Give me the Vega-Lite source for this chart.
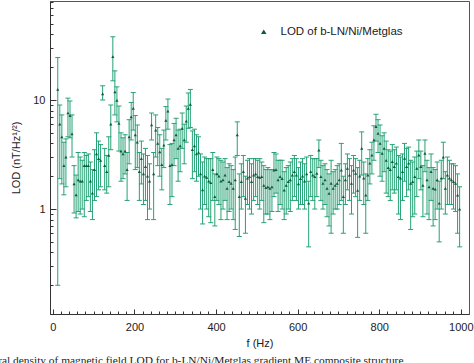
{
"$schema": "https://vega.github.io/schema/vega-lite/v6.json",
"width": 419, "height": 313,
"autosize": "none",
"padding": {"left": 50, "top": 1, "right": 5, "bottom": 49},
"background": "white",
"config": {"view": {"stroke": "#555", "strokeWidth": 1}, "font": "Liberation Sans"},
"title": {"text": "Fig. 5 Noise spectral density of magnetic field LOD for b-LN/Ni/Metglas gradient ME composite structure", "orient": "bottom", "anchor": "start", "frame": "group", "dx": -134, "offset": 16, "baseline": "alphabetic", "font": "Liberation Serif", "fontSize": 11.4, "fontWeight": "normal", "color": "#222"},
"data": {"values": [
{"f":12,"v":12.5,"lo":0.2,"hi":24.5},{"f":17,"v":6.0,"lo":1.9,"hi":9.0},{"f":22,"v":4.6,"lo":1.7,"hi":7.3},{"f":27,"v":2.5,"lo":1.35,"hi":4.1},{"f":32,"v":3.0,"lo":1.6,"hi":4.4},
{"f":37,"v":7.6,"lo":4.6,"hi":10.4},{"f":42,"v":7.2,"lo":4.5,"hi":9.8},{"f":47,"v":4.9,"lo":3.0,"hi":7.3},{"f":52,"v":1.7,"lo":0.92,"hi":2.5},{"f":57,"v":1.35,"lo":0.83,"hi":2.05},
{"f":62,"v":1.85,"lo":0.95,"hi":3.3},{"f":67,"v":1.8,"lo":0.9,"hi":3.0},{"f":72,"v":1.8,"lo":1.0,"hi":2.8},{"f":77,"v":2.5,"lo":0.85,"hi":3.3},{"f":82,"v":2.5,"lo":1.2,"hi":3.1},
{"f":87,"v":2.5,"lo":1.3,"hi":3.2},{"f":92,"v":1.8,"lo":0.95,"hi":2.7},{"f":97,"v":1.4,"lo":0.8,"hi":2.3},{"f":102,"v":2.3,"lo":1.2,"hi":3.5},{"f":107,"v":3.2,"lo":1.3,"hi":5.0},
{"f":112,"v":2.9,"lo":1.5,"hi":4.2},{"f":117,"v":2.8,"lo":1.6,"hi":3.9},{"f":122,"v":11.4,"lo":10.0,"hi":13.5},{"f":127,"v":2.5,"lo":1.5,"hi":3.6},{"f":132,"v":2.2,"lo":1.4,"hi":3.1},
{"f":137,"v":3.1,"lo":1.6,"hi":4.6},{"f":142,"v":6.0,"lo":3.5,"hi":9.0},{"f":147,"v":25,"lo":15,"hi":38},{"f":152,"v":11.9,"lo":7.3,"hi":18.5},{"f":157,"v":9.9,"lo":6.3,"hi":13.2},
{"f":162,"v":6.1,"lo":3.4,"hi":8.8},{"f":167,"v":3.4,"lo":1.8,"hi":5.0},{"f":172,"v":3.2,"lo":1.9,"hi":4.5},{"f":177,"v":3.4,"lo":2.1,"hi":4.8},{"f":182,"v":2.3,"lo":1.2,"hi":3.3},
{"f":187,"v":4.6,"lo":2.6,"hi":6.6},{"f":192,"v":7.0,"lo":4.3,"hi":9.5},{"f":197,"v":8.4,"lo":5.3,"hi":11.7},{"f":202,"v":4.8,"lo":2.3,"hi":7.2},{"f":207,"v":4.1,"lo":2.4,"hi":5.9},
{"f":212,"v":2.2,"lo":1.2,"hi":3.3},{"f":217,"v":2.9,"lo":1.7,"hi":4.2},{"f":222,"v":2.1,"lo":1.1,"hi":3.2},{"f":227,"v":2.45,"lo":1.2,"hi":3.6},{"f":232,"v":2.0,"lo":0.8,"hi":3.1},
{"f":237,"v":1.8,"lo":1.0,"hi":2.6},{"f":242,"v":5.9,"lo":4.3,"hi":7.6},{"f":247,"v":2.1,"lo":0.8,"hi":3.3},{"f":252,"v":5.3,"lo":3.0,"hi":7.3},{"f":257,"v":4.0,"lo":2.5,"hi":5.6},
{"f":262,"v":3.35,"lo":2.0,"hi":4.8},{"f":267,"v":2.55,"lo":1.5,"hi":3.6},{"f":272,"v":3.85,"lo":2.4,"hi":5.3},{"f":277,"v":6.5,"lo":4.3,"hi":8.7},{"f":282,"v":7.9,"lo":5.4,"hi":10.2},
{"f":287,"v":2.5,"lo":1.1,"hi":3.9},{"f":292,"v":2.55,"lo":1.3,"hi":4.0},{"f":297,"v":4.3,"lo":2.5,"hi":6.1},{"f":302,"v":4.8,"lo":2.9,"hi":6.8},{"f":307,"v":3.6,"lo":1.8,"hi":5.3},
{"f":312,"v":3.8,"lo":2.2,"hi":5.4},{"f":317,"v":5.5,"lo":3.6,"hi":7.6},{"f":322,"v":4.3,"lo":2.6,"hi":6.0},{"f":327,"v":6.4,"lo":4.1,"hi":8.8},{"f":332,"v":8.4,"lo":5.5,"hi":11.6},
{"f":337,"v":9.1,"lo":5.6,"hi":12.5},{"f":342,"v":3.5,"lo":1.9,"hi":5.2},{"f":347,"v":3.8,"lo":2.2,"hi":5.4},{"f":352,"v":3.2,"lo":1.8,"hi":4.8},{"f":357,"v":3.3,"lo":2.0,"hi":4.6},
{"f":362,"v":2.1,"lo":1.0,"hi":3.2},{"f":367,"v":1.5,"lo":0.73,"hi":2.7},{"f":372,"v":2.0,"lo":1.1,"hi":3.0},{"f":377,"v":1.95,"lo":1.0,"hi":2.9},{"f":382,"v":1.8,"lo":0.85,"hi":2.9},
{"f":387,"v":1.75,"lo":0.75,"hi":2.9},{"f":392,"v":2.3,"lo":1.2,"hi":3.3},{"f":397,"v":1.3,"lo":0.7,"hi":2.1},{"f":402,"v":2.1,"lo":1.2,"hi":3.0},{"f":407,"v":2.0,"lo":1.1,"hi":2.9},
{"f":412,"v":1.8,"lo":0.8,"hi":2.8},{"f":417,"v":1.85,"lo":1.0,"hi":2.7},{"f":422,"v":2.05,"lo":1.2,"hi":2.9},{"f":427,"v":1.55,"lo":0.8,"hi":2.4},{"f":432,"v":1.78,"lo":0.95,"hi":2.6},
{"f":437,"v":1.72,"lo":1.0,"hi":2.5},{"f":442,"v":1.55,"lo":0.8,"hi":2.3},{"f":447,"v":1.85,"lo":0.65,"hi":3.0},{"f":452,"v":4.8,"lo":3.1,"hi":6.3},{"f":457,"v":1.3,"lo":0.56,"hi":2.1},
{"f":462,"v":1.78,"lo":1.0,"hi":2.6},{"f":467,"v":2.2,"lo":1.3,"hi":3.1},{"f":472,"v":1.25,"lo":0.6,"hi":2.0},{"f":477,"v":1.92,"lo":1.1,"hi":2.8},{"f":482,"v":1.98,"lo":1.0,"hi":2.9},
{"f":487,"v":1.78,"lo":0.9,"hi":2.6},{"f":492,"v":2.05,"lo":1.2,"hi":2.9},{"f":497,"v":2.1,"lo":1.3,"hi":2.9},{"f":502,"v":1.98,"lo":1.1,"hi":2.8},{"f":507,"v":1.95,"lo":1.0,"hi":2.9},
{"f":512,"v":1.98,"lo":1.2,"hi":2.7},{"f":517,"v":1.65,"lo":0.75,"hi":2.5},{"f":522,"v":1.57,"lo":0.9,"hi":2.3},{"f":527,"v":1.6,"lo":0.9,"hi":2.4},{"f":532,"v":1.55,"lo":0.8,"hi":2.3},
{"f":537,"v":1.6,"lo":0.95,"hi":2.3},{"f":542,"v":2.28,"lo":1.3,"hi":3.3},{"f":547,"v":2.3,"lo":1.4,"hi":3.2},{"f":552,"v":1.85,"lo":0.95,"hi":2.8},{"f":557,"v":1.98,"lo":1.1,"hi":2.8},
{"f":562,"v":1.9,"lo":1.0,"hi":2.8},{"f":567,"v":1.49,"lo":0.8,"hi":2.2},{"f":572,"v":1.65,"lo":0.9,"hi":2.4},{"f":577,"v":1.78,"lo":1.0,"hi":2.5},{"f":582,"v":1.85,"lo":0.95,"hi":2.7},
{"f":587,"v":2.05,"lo":1.2,"hi":2.9},{"f":592,"v":2.2,"lo":1.3,"hi":3.1},{"f":597,"v":2.05,"lo":1.2,"hi":2.9},{"f":602,"v":1.7,"lo":1.0,"hi":2.4},{"f":607,"v":1.9,"lo":1.1,"hi":2.7},
{"f":612,"v":2.0,"lo":1.1,"hi":2.9},{"f":617,"v":1.8,"lo":1.0,"hi":2.6},{"f":622,"v":2.1,"lo":1.2,"hi":3.0},{"f":627,"v":1.13,"lo":0.45,"hi":1.8},{"f":632,"v":2.2,"lo":1.3,"hi":3.1},
{"f":637,"v":2.05,"lo":1.2,"hi":2.9},{"f":642,"v":1.98,"lo":1.0,"hi":2.9},{"f":647,"v":2.12,"lo":1.3,"hi":2.9},{"f":652,"v":3.47,"lo":2.4,"hi":4.3},{"f":657,"v":1.98,"lo":1.2,"hi":2.8},
{"f":662,"v":1.72,"lo":1.0,"hi":2.5},{"f":667,"v":1.85,"lo":1.1,"hi":2.6},{"f":672,"v":1.55,"lo":0.85,"hi":2.3},{"f":677,"v":1.39,"lo":0.7,"hi":2.1},{"f":682,"v":1.72,"lo":0.6,"hi":2.8},
{"f":687,"v":1.55,"lo":0.9,"hi":2.2},{"f":692,"v":1.65,"lo":1.0,"hi":2.3},{"f":697,"v":1.72,"lo":1.0,"hi":2.5},{"f":702,"v":1.85,"lo":1.1,"hi":2.6},{"f":707,"v":2.28,"lo":1.2,"hi":4.0},
{"f":712,"v":1.3,"lo":0.6,"hi":2.0},{"f":717,"v":1.85,"lo":1.1,"hi":2.6},{"f":722,"v":2.36,"lo":1.5,"hi":3.2},{"f":727,"v":2.05,"lo":1.2,"hi":2.9},{"f":732,"v":1.72,"lo":0.9,"hi":2.5},
{"f":737,"v":2.28,"lo":1.4,"hi":3.1},{"f":742,"v":2.12,"lo":1.3,"hi":2.9},{"f":747,"v":1.48,"lo":0.55,"hi":2.4},{"f":752,"v":2.0,"lo":1.2,"hi":2.8},{"f":757,"v":3.6,"lo":2.05,"hi":5.1},
{"f":762,"v":1.92,"lo":1.1,"hi":2.7},{"f":767,"v":1.34,"lo":0.6,"hi":2.1},{"f":772,"v":2.05,"lo":1.2,"hi":2.9},{"f":777,"v":2.63,"lo":1.7,"hi":3.5},{"f":782,"v":3.13,"lo":2.1,"hi":4.1},
{"f":787,"v":4.3,"lo":2.8,"hi":5.8},{"f":792,"v":5.7,"lo":4.2,"hi":7.4},{"f":797,"v":4.95,"lo":3.3,"hi":6.6},{"f":802,"v":4.0,"lo":2.0,"hi":5.9},{"f":807,"v":3.24,"lo":1.8,"hi":4.7},
{"f":812,"v":3.6,"lo":2.2,"hi":5.0},{"f":817,"v":2.8,"lo":1.4,"hi":4.2},{"f":822,"v":2.4,"lo":1.3,"hi":3.5},{"f":827,"v":2.3,"lo":1.2,"hi":3.4},{"f":832,"v":2.72,"lo":1.5,"hi":3.9},
{"f":837,"v":2.45,"lo":1.4,"hi":3.5},{"f":842,"v":2.63,"lo":1.5,"hi":3.7},{"f":847,"v":1.98,"lo":0.9,"hi":3.1},{"f":852,"v":1.92,"lo":0.8,"hi":3.0},{"f":857,"v":2.2,"lo":1.2,"hi":3.2},
{"f":862,"v":2.92,"lo":1.8,"hi":4.0},{"f":867,"v":2.45,"lo":1.3,"hi":3.6},{"f":872,"v":2.63,"lo":1.5,"hi":3.7},{"f":877,"v":1.72,"lo":0.65,"hi":2.8},{"f":882,"v":1.78,"lo":0.85,"hi":2.7},
{"f":887,"v":1.98,"lo":0.9,"hi":3.0},{"f":892,"v":2.36,"lo":1.3,"hi":3.4},{"f":897,"v":3.13,"lo":1.9,"hi":4.3},{"f":902,"v":2.45,"lo":1.5,"hi":3.4},{"f":907,"v":1.65,"lo":0.85,"hi":2.5},
{"f":912,"v":3.24,"lo":2.2,"hi":4.3},{"f":917,"v":1.85,"lo":0.9,"hi":2.8},{"f":922,"v":1.6,"lo":0.8,"hi":2.4},{"f":927,"v":2.2,"lo":1.2,"hi":3.2},{"f":932,"v":1.55,"lo":0.7,"hi":2.4},
{"f":937,"v":1.52,"lo":0.8,"hi":2.3},{"f":942,"v":1.85,"lo":1.0,"hi":2.7},{"f":947,"v":1.13,"lo":0.5,"hi":1.8},{"f":952,"v":1.92,"lo":1.0,"hi":2.8},{"f":957,"v":3.0,"lo":1.9,"hi":4.1},
{"f":962,"v":1.55,"lo":0.9,"hi":2.2},{"f":967,"v":2.05,"lo":1.1,"hi":3.0},{"f":972,"v":1.92,"lo":1.1,"hi":2.8},{"f":977,"v":1.85,"lo":1.1,"hi":2.6},{"f":982,"v":1.78,"lo":1.0,"hi":2.6},
{"f":987,"v":1.72,"lo":0.95,"hi":2.5},{"f":992,"v":1.34,"lo":0.6,"hi":2.1},{"f":997,"v":1.0,"lo":0.45,"hi":1.6}
]},
"encoding": {
  "x": {"field": "f", "type": "quantitative",
    "scale": {"domain": [-7, 1020], "nice": false, "zero": false},
    "axis": {"title": "f (Hz)", "titleFont": "Liberation Sans", "titleFontSize": 11, "titleFontWeight": "normal", "titleColor": "#222", "titlePadding": 3,
      "values": [0,20,40,60,80,100,120,140,160,180,200,220,240,260,280,300,320,340,360,380,400,420,440,460,480,500,520,540,560,580,600,620,640,660,680,700,720,740,760,780,800,820,840,860,880,900,920,940,960,980,1000],
      "format": "d", "labelExpr": "datum.value % 200 == 0 ? datum.label : ''", "labelOverlap": false, "labelFlush": false,
      "labelFontSize": 11, "labelColor": "#222", "labelPadding": 12,
      "tickSize": {"condition": {"test": "datum.value % 200 == 0", "value": -5}, "value": -3},
      "tickColor": "#333", "domainColor": "#333", "grid": false}
  }
},
"layer": [
  {"mark": {"type": "rule", "color": "#26a276", "strokeWidth": 1},
   "encoding": {
     "y": {"field": "lo", "type": "quantitative",
       "scale": {"type": "log", "domain": [0.109, 80.9], "nice": false},
       "axis": {"title": "LOD (nT/Hz¹/²)", "titleFont": "Liberation Sans", "titleFontSize": 11, "titleFontWeight": "normal", "titleColor": "#222", "titlePadding": 11,
         "values": [0.2,0.3,0.4,0.5,0.6,0.7,0.8,0.9,1,2,3,4,5,6,7,8,9,10,20,30,40,50,60,70,80],
         "labelExpr": "datum.value == 1 || datum.value == 10 ? datum.label : ''", "labelOverlap": false, "labelFlush": false,
         "labelFontSize": 11, "labelColor": "#222", "labelPadding": 11,
         "tickSize": {"condition": {"test": "datum.value == 1 || datum.value == 10", "value": -6}, "value": -3},
         "tickColor": "#333", "domainColor": "#333", "grid": false}},
     "y2": {"field": "hi"}
   }},
  {"mark": {"type": "tick", "orient": "horizontal", "color": "#26a276", "size": 5, "thickness": 1, "opacity": 1},
   "encoding": {"y": {"field": "lo", "type": "quantitative"}}},
  {"mark": {"type": "tick", "orient": "horizontal", "color": "#26a276", "size": 5, "thickness": 1, "opacity": 1},
   "encoding": {"y": {"field": "hi", "type": "quantitative"}}},
  {"mark": {"type": "point", "filled": true, "size": 10, "color": "#0f5a3a", "opacity": 1},
   "encoding": {
     "y": {"field": "v", "type": "quantitative"},
     "shape": {"datum": "LOD of b-LN/Ni/Metglas", "scale": {"range": ["triangle-up"]},
       "legend": {"title": null, "orient": "none", "legendX": 208, "legendY": 25, "labelFont": "Liberation Sans", "labelFontSize": 11.5, "labelColor": "#222", "symbolSize": 30, "symbolFillColor": "#0f5a3a", "symbolStrokeColor": "#0f5a3a", "labelOffset": 11}}
   }}
]
}
